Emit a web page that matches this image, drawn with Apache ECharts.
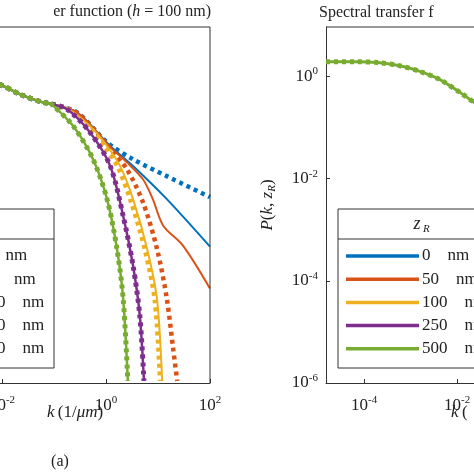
<!DOCTYPE html>
<html><head><meta charset="utf-8">
<script src="https://cdn.jsdelivr.net/npm/echarts@6/dist/echarts.min.js"></script>
<style>html,body{margin:0;background:#fff}#c{width:474px;height:474px}</style></head>
<body><div id="c"></div>
<script>
// values are [log10 k, log10 P]
const common = [[-2.5,-0.05],[-2.04,-0.16],[-1.65,-0.35],[-1.27,-0.49],[-1.08,-0.53]];
const blueDot = [[-0.56,-0.70],[0.02,-1.29],[0.52,-1.62],[1.17,-1.95],[2.0,-2.36]];
const blueSolid = [[-0.56,-0.70],[0.08,-1.36],[0.52,-1.75],[1.17,-2.40],[2.0,-3.33]];
const redSolid = [[-0.56,-0.70],[0.08,-1.38],[0.40,-1.68],[0.71,-2.01],[0.90,-2.40],[1.10,-2.92],[1.48,-3.31],[2.0,-4.15]];
const redDot = [[-0.56,-0.71],[0.02,-1.33],[0.13,-1.48],[0.40,-1.81],[0.71,-2.46],[0.98,-3.37],[1.17,-4.35],[1.29,-5.32],[1.37,-5.96]];
const yellow = [[-0.75,-0.62],[-0.31,-0.97],[0.02,-1.36],[0.27,-1.75],[0.52,-2.40],[0.79,-3.37],[0.98,-4.35],[1.08,-5.96]];
const yellowDash = [[-0.75,-0.63],[-0.35,-0.99],[-0.02,-1.38],[0.23,-1.78],[0.48,-2.45],[0.75,-3.40],[0.94,-4.40],[1.04,-5.96]];
const purple = [[-1.08,-0.53],[-0.75,-0.64],[-0.31,-1.09],[0.08,-1.75],[0.33,-2.73],[0.52,-3.70],[0.65,-4.68],[0.73,-5.96]];
const green = [[-1.08,-0.51],[-0.63,-0.97],[-0.25,-1.62],[0.02,-2.40],[0.21,-3.37],[0.33,-4.35],[0.42,-5.96]];
const rightGreen = [[-4.82,0.29],[-4.2,0.29],[-3.66,0.27],[-3.23,0.21],[-2.80,0.10],[-2.37,-0.06],[-1.94,-0.31],[-1.63,-0.51],[-1.4,-0.66]];
const legendLabels = ['0  nm','50  nm','100  nm','250  nm','500  nm'];
const colors = ['#0072BD','#D95319','#EDB120','#7E2F8E','#77AC30'];
const xTicksLeft = [-4,-2,0,2];
const xTicksRight = [-4,-2,0,2];
const yTicks = [0,-2,-4,-6];

const F = 'Liberation Serif, DejaVu Serif, serif';
const fmt = v => '{b|10}{s|' + (v<0?'-'+(-v):v) + '}';
const rich = {b:{fontFamily:F,fontSize:17,color:'#222'},s:{fontFamily:F,fontSize:11,color:'#222',verticalAlign:'top',padding:[0,0,10,0]}};
function xAxis(idx,min,max,ticks){
  return {type:'value',gridIndex:idx,min,max,
    axisLine:{onZero:false,lineStyle:{color:'#333',width:1}},
    axisTick:{customValues:ticks,inside:true,length:4},
    axisLabel:{customValues:ticks,formatter:fmt,rich,margin:12},splitLine:{show:false}};
}
function yAxis(idx,show){
  return {type:'value',gridIndex:idx,min:-6,max:0.97,
    axisLine:{show:true,onZero:false,lineStyle:{color:'#333'}},
    axisTick:{customValues:yTicks,inside:true,length:4},
    axisLabel:{show:show,customValues:yTicks,formatter:fmt,rich,margin:8},splitLine:{show:false}};
}
const chain = a => common.concat(a);
function s(data,color,dotted,width,gi,z){
  return {type:'line',xAxisIndex:gi,yAxisIndex:gi,data,showSymbol:false,smooth:0.3,z:z||2,
    lineStyle:{color,width,type:dotted?[4,4]:'solid'},clip:true};
}
const series = [
  s(chain(blueDot),colors[0],true,4.5,0),
  s(chain(blueSolid),colors[0],false,2,0),
  s(chain(redDot),colors[1],true,4.5,0),
  s(chain(redSolid),colors[1],false,2,0),
  s(chain(yellowDash),colors[2],true,4.5,0),
  s(chain(yellow),colors[2],false,2,0),
  s(chain(purple),colors[3],true,5,0),
  s(chain(purple),colors[3],false,2.5,0),
  s(common.concat(green),colors[4],true,5,0,3),
  s(common.concat(green),colors[4],false,2.5,0,3),
  s(rightGreen,colors[4],true,5,1),
  s(rightGreen,colors[4],false,3,1)
];
const g = [];
function legend(x0){
  g.push({type:'rect',shape:{x:x0,y:209,width:158,height:159},style:{fill:'#fff',stroke:'#333',lineWidth:1},z:10});
  g.push({type:'line',shape:{x1:x0,y1:239,x2:x0+158,y2:239},style:{stroke:'#333',lineWidth:1},z:11});
  legendLabels.forEach((t,i)=>{
    const y=256+i*23.2;
    g.push({type:'line',shape:{x1:x0+8,y1:y,x2:x0+81,y2:y},style:{stroke:colors[i],lineWidth:3.5},z:11});
    g.push({type:'text',x:x0+84,y:y,style:{text:t.replace('  ','\u2002\u2002'),font:'17px '+F,fill:'#222',verticalAlign:'middle'},z:11});
  });
  g.push({type:'text',x:x0+79,y:224,style:{text:'z',font:'italic 18px '+F,fill:'#222',align:'center',verticalAlign:'middle'},z:11});
  g.push({type:'text',x:x0+85,y:229,style:{text:'R',font:'italic 11px '+F,fill:'#222',verticalAlign:'middle'},z:11});
}
legend(-104); legend(338);
g.push({type:'text',x:211,y:12,style:{text:'{n|er function (}{i|h}{n| = 100 nm)}',rich:{n:{font:'16px '+F,fill:'#222'},i:{font:'italic 16px '+F,fill:'#222'}},align:'right',verticalAlign:'middle'}});
g.push({type:'text',x:319,y:13,style:{text:'Spectral transfer f',font:'16px '+F,fill:'#222',verticalAlign:'middle'}});
g.push({type:'text',x:75,y:413,style:{text:'{i|k} {n|(1/}{i|μm}{n|)}',rich:{n:{font:'17px '+F,fill:'#222'},i:{font:'italic 17px '+F,fill:'#222'}},align:'center',verticalAlign:'middle'}});
g.push({type:'text',x:60,y:462,style:{text:'(a)',font:'16px '+F,fill:'#222',align:'center',verticalAlign:'middle'}});
g.push({type:'text',x:451,y:413,style:{text:'{i|k} {n|(}',rich:{n:{font:'17px '+F,fill:'#222'},i:{font:'italic 17px '+F,fill:'#222'}},verticalAlign:'middle'}});
g.push({type:'text',x:268,y:205,rotation:Math.PI/2,style:{text:'{i|P}{n|(}{i|k}{n|, }{i|z}{s|R}{n|)}',rich:{n:{font:'17px '+F,fill:'#222'},i:{font:'italic 17px '+F,fill:'#222'},s:{font:'italic 11px '+F,fill:'#222',padding:[8,0,0,0]}},align:'center',verticalAlign:'middle'}});
g.push({type:'line',shape:{x1:0,y1:27,x2:210,y2:27},style:{stroke:'#333'},z:5});
g.push({type:'line',shape:{x1:210,y1:27,x2:210,y2:383},style:{stroke:'#333'},z:5});
g.push({type:'line',shape:{x1:326,y1:27,x2:474,y2:27},style:{stroke:'#333'},z:5});

const chart = echarts.init(document.getElementById('c'));
chart.setOption({
  animation:false,
  grid:[{left:-154,top:27,width:364,height:356,outerBoundsMode:'none',containLabel:false},
        {left:326,top:27,width:410,height:356,outerBoundsMode:'none',containLabel:false}],
  xAxis:[xAxis(0,-5,2,xTicksLeft),xAxis(1,-4.82,4,xTicksRight)],
  yAxis:[yAxis(0,false),yAxis(1,true)],
  series, graphic:g
});
</script></body></html>
